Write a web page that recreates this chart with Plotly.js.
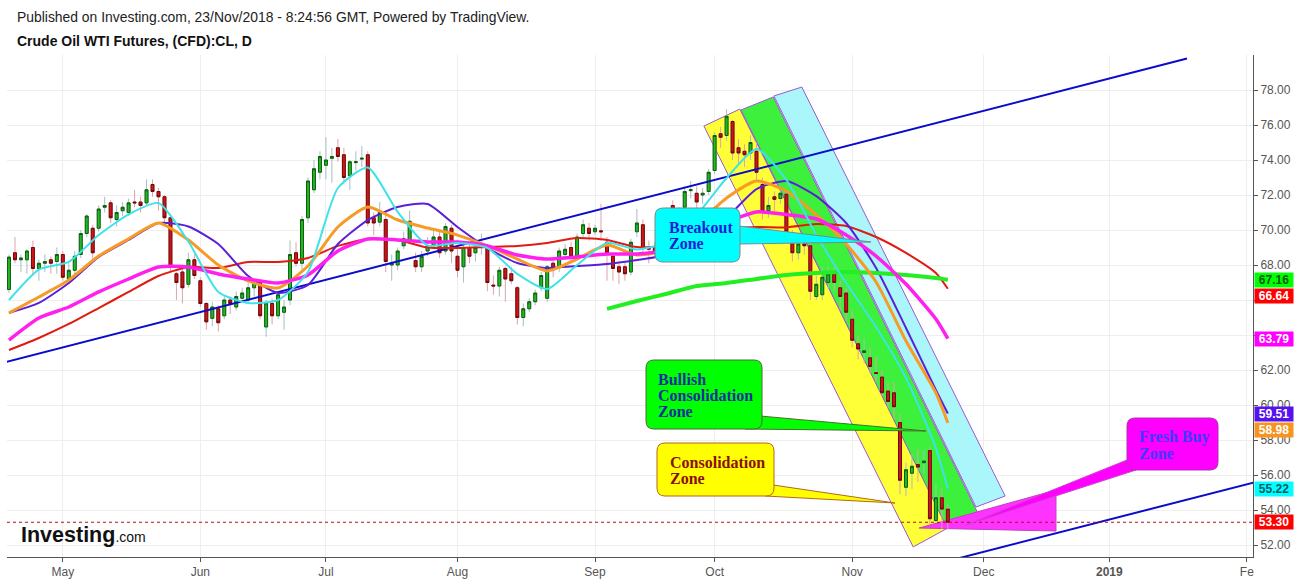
<!DOCTYPE html>
<html><head><meta charset="utf-8">
<script src="https://cdn.plot.ly/plotly-3.0.1.min.js"></script>
<style>html,body{margin:0;padding:0;background:#fff}#chart{width:1299px;height:581px}</style>
</head><body><div id="chart"></div>
<script>
// ---------------- DATA ----------------
const firstDay = '2018-04-18';
const openP = [
66.6,68.7,68.3,68.3,69.0,67.8,68.1,68.3,68.2,68.6,
67.2,67.7,68.6,69.8,70.1,70.1,71.3,71.55,70.6,71.1,
71.0,71.6,71.6,71.55,72.6,72.2,71.9,70.7,67.5,67.6,
66.9,68.3,67.1,65.8,64.95,65.5,65.1,66.0,65.6,66.1,
66.0,66.7,67.0,64.46,65.8,65.1,65.3,66.0,68.7,68.1,
70.7,72.3,73.3,73.7,74.1,74.7,74.3,73.1,73.85,74.05,
74.3,70.7,70.45,70.6,68.0,68.0,69.1,69.4,68.25,67.9,
68.8,69.1,69.6,68.8,70.1,68.5,67.9,69.0,68.7,69.0,
69.0,66.85,66.8,67.8,67.5,66.7,65.0,65.5,65.9,66.7,
66.1,68.1,67.9,68.6,69.0,68.5,69.8,70.1,69.9,69.95,
69.3,68.5,67.9,67.9,67.6,69.9,70.3,69.0,69.0,68.9,
69.9,71.4,70.7,71.3,72.25,72.1,72.0,72.2,73.4,75.5,
75.4,76.2,74.7,74.5,74.4,74.5,72.6,71.1,71.9,71.8,
72.05,69.8,68.7,69.2,69.1,66.2,66.3,67.0,67.5,66.7,
66.4,64.9,63.5,63.0,62.7,61.85,61.6,60.8,60.7,59.0,
55.3,56.1,56.6,56.7,57.4,53.4,54.7,54.05];
const highP = [
68.6,69.6,68.6,68.9,69.4,68.3,68.6,68.5,69.0,68.8,
68.1,68.8,70.0,70.9,70.3,71.4,71.9,71.7,71.4,71.6,
71.8,72.3,71.9,72.9,72.9,72.4,72.0,70.9,67.6,67.8,
68.7,68.6,67.3,65.9,65.9,65.7,66.3,66.2,66.5,66.7,
67.0,67.2,67.1,66.0,66.1,66.5,66.0,69.4,69.3,70.8,
73.0,74.0,74.5,75.3,74.7,75.2,74.7,74.0,74.5,74.8,
74.5,71.0,71.6,71.1,68.6,69.0,69.9,71.1,68.7,68.8,
69.6,70.0,70.0,70.4,70.3,68.9,69.2,69.3,69.4,69.8,
69.2,67.4,67.9,67.9,67.9,66.8,65.8,66.1,66.6,67.6,
68.0,68.3,69.0,69.2,69.3,69.8,70.6,70.4,70.3,71.5,
69.6,68.7,68.2,68.2,69.5,71.2,70.6,69.4,69.3,70.1,
71.3,71.7,71.3,72.5,72.8,72.5,72.4,73.5,75.6,75.9,
76.9,76.3,75.2,74.9,75.4,75.0,73.0,71.9,72.2,72.4,
72.3,70.0,69.6,69.6,69.4,67.4,67.9,67.9,67.9,67.1,
66.7,65.4,64.0,63.8,63.3,62.8,62.0,61.3,61.3,59.5,
56.7,57.2,57.5,57.4,57.6,55.5,55.2,54.4];
const lowP = [
66.4,68.1,67.6,67.5,67.4,67.1,67.6,67.5,67.5,67.1,
66.9,67.4,68.4,69.6,68.3,69.9,71.0,70.4,70.2,70.8,
70.8,71.3,71.0,71.4,71.9,71.1,70.3,67.6,66.0,65.8,
66.7,67.2,65.6,64.3,64.5,64.2,64.9,65.2,65.4,65.9,
65.8,66.2,64.9,63.9,64.6,64.9,64.3,65.7,67.9,67.7,
70.4,72.1,72.9,72.9,72.7,73.9,72.6,72.3,73.4,73.6,
70.2,69.7,70.2,67.6,67.1,67.7,68.9,69.2,67.6,67.6,
68.5,68.9,68.4,68.6,68.1,67.3,67.0,68.1,68.2,68.6,
66.5,66.3,66.2,65.9,66.9,64.6,64.5,65.3,65.7,66.5,
65.9,67.3,67.6,68.3,68.1,68.3,69.5,69.4,69.7,69.4,
67.1,67.1,66.9,67.1,67.4,69.6,68.6,68.1,68.5,68.6,
69.7,70.3,70.5,70.8,71.8,71.2,71.5,72.0,73.2,74.7,
75.1,74.0,73.7,73.6,74.0,72.8,70.6,70.7,71.1,71.5,
69.5,68.2,68.3,68.6,66.0,66.0,66.0,66.6,66.5,65.4,
64.8,63.3,62.6,62.4,61.8,61.3,60.5,59.8,59.2,54.9,
54.8,55.2,55.6,56.1,53.2,53.3,52.9,52.9];
const closeP = [
68.45,68.3,68.4,68.8,67.8,68.1,68.2,68.1,68.6,67.3,
67.7,68.5,69.8,70.8,68.7,71.2,71.4,70.7,71.0,71.3,
71.55,71.55,71.4,72.3,72.2,71.9,70.7,67.9,67.0,66.7,
68.3,67.4,65.8,64.75,65.6,64.7,66.0,65.8,66.2,66.4,
66.7,67.0,65.1,65.83,65.1,66.3,65.6,68.6,68.1,70.6,
72.8,73.5,74.2,74.0,74.2,74.2,73.0,73.9,73.9,74.1,
70.4,70.4,71.0,68.2,68.1,68.8,69.5,70.5,67.9,68.5,
69.1,69.6,68.7,70.2,68.8,67.7,69.0,68.5,69.0,69.15,
67.0,66.8,67.7,67.2,67.1,65.0,65.5,65.9,66.4,67.4,
67.9,67.8,68.8,68.9,68.5,69.6,70.3,69.8,70.1,69.9,
68.7,67.8,67.6,67.5,69.3,70.4,69.0,68.9,68.8,69.9,
71.1,71.1,71.0,72.2,72.3,71.6,72.1,73.3,75.4,75.3,
76.5,74.4,74.4,74.3,75.0,73.3,71.0,71.4,71.75,72.1,
69.9,68.7,69.2,69.1,66.5,66.9,67.3,67.5,67.0,66.2,
65.3,63.7,63.2,63.1,62.2,61.8,60.7,60.2,59.9,55.7,
56.3,56.5,56.45,56.8,53.5,54.7,54.05,53.3];

const maDates = ['2018-04-18','2018-04-25','2018-05-02','2018-05-09','2018-05-16','2018-05-23','2018-05-30','2018-06-06','2018-06-13','2018-06-20','2018-06-27','2018-07-04','2018-07-11','2018-07-18','2018-07-25','2018-08-01','2018-08-08','2018-08-15','2018-08-22','2018-08-29','2018-09-05','2018-09-12','2018-09-19','2018-09-26','2018-10-03','2018-10-10','2018-10-17','2018-10-24','2018-10-31','2018-11-07','2018-11-14','2018-11-21','2018-11-23'];
const maCyan    = [66.0,67.74,68.18,69.71,70.89,71.54,69.34,66.46,65.83,66.0,67.6,72.4,73.57,71.03,69.11,69.26,68.97,67.49,66.63,68.0,69.26,68.89,69.3,70.86,72.97,74.63,72.86,69.71,66.97,64.46,61.54,57.54,55.22];
const maOrange  = [65.26,66.17,67.14,68.51,69.49,70.4,69.43,68.0,67.09,66.69,67.94,70.17,71.31,70.57,70.11,69.71,69.09,68.34,67.66,68.34,69.14,68.57,68.86,70.29,71.83,72.8,72.23,70.86,69.2,67.03,63.66,60.69,58.98];
const maPurple  = [65.26,65.83,66.97,68.46,69.43,70.4,70.2,69.2,67.37,66.4,66.86,69.2,70.57,71.31,71.49,70.17,68.97,68.11,67.83,67.94,68.06,68.29,68.57,69.43,70.69,72.34,72.8,71.94,70.4,67.83,64.4,60.86,59.51];
const maMagenta = [63.71,64.97,65.6,66.46,67.2,67.89,67.89,67.49,67.2,66.97,67.43,68.8,69.49,69.43,69.31,69.31,69.09,68.57,68.34,68.46,68.63,68.63,68.86,69.77,70.46,71.03,70.88,70.63,69.71,68.51,66.91,64.91,63.79];
const maRed     = [63.14,63.83,64.63,65.54,66.46,67.37,67.89,67.83,68.17,68.17,68.4,69.09,69.49,69.43,69.0,68.97,69.03,69.09,69.26,69.54,69.43,69.03,69.09,69.54,70.06,70.17,70.15,70.34,70.23,69.6,68.69,67.54,66.64];
const maGreenDates = maDates.slice(20);
const maGreen   = [65.49,65.94,66.36,66.8,66.97,67.2,67.43,67.54,67.6,67.54,67.43,67.26,67.16];

// drawings
const yellowBandX = ['2018-09-27 05:00','2018-10-05 05:00','2018-11-23 00:00','2018-11-15 05:00'];
const yellowBandY = [75.94,76.91,52.97,51.89];
const greenBandX  = ['2018-10-05 10:00','2018-10-12 19:00','2018-11-29 22:00','2018-11-22 17:00'];
const greenBandY  = [76.86,77.6,53.89,53.09];
const cyanBandX   = ['2018-10-12 22:00','2018-10-19 14:00','2018-12-06 14:00','2018-11-29 17:00'];
const cyanBandY   = [77.66,78.17,54.8,54.17];
const buyZoneX    = ['2018-11-16 05:00','2018-12-19 02:00','2018-12-19 02:00'];
const buyZoneY    = [52.97,55.14,52.8];
const trendUpX  = ['2018-04-17','2019-01-18'];
const trendUpY  = [62.41,79.80];
const trendLowX = ['2018-11-20','2019-02-08'];
const trendLowY = [50.82,55.91];
const lastPrice = 53.30;

const tickDates  = ['2018-05-01','2018-06-01','2018-07-02','2018-08-01','2018-09-03','2018-10-01','2018-11-01','2018-12-03','2019-01-01','2019-02-01'];
const tickLabels = ['May','Jun','Jul','Aug','Sep','Oct','Nov','Dec','<b>2019</b>','Fe'];
const priceTicks = [52,54,56,58,60,62,64,66,68,70,72,74,76,78];
const priceTickText = ['52.00','54.00','56.00','58.00','60.00','62.00','','','68.00','70.00','72.00','74.00','76.00','78.00'];
const labelValues = [67.16,66.64,63.79,59.51,58.98,55.22,53.30];

// ---------------- BUILD ----------------
function weekdays(start, n){
  const out=[]; const d=new Date(start+'T00:00:00Z');
  while(out.length<n){const w=d.getUTCDay(); if(w!==0&&w!==6) out.push(d.toISOString().slice(0,10)); d.setUTCDate(d.getUTCDate()+1);}
  return out;
}
const dates = weekdays(firstDay, openP.length);
const bodyHi = openP.map((o,i)=>Math.max(o,closeP[i]));
const bodyLo = openP.map((o,i)=>Math.min(o,closeP[i]));

const L=7, R=1253, T=55, B=557, W=R-L, H=B-T;
const PX = x => (x-L)/W, PY = y => (B-y)/H;
const P = (x,y) => `${PX(x)},${PY(y)}`;
function rrect(x0,y0,x1,y1,r){
  return `M${P(x0+r,y0)} L${P(x1-r,y0)} Q${P(x1,y0)} ${P(x1,y0+r)} L${P(x1,y1-r)} Q${P(x1,y1)} ${P(x1-r,y1)} L${P(x0+r,y1)} Q${P(x0,y1)} ${P(x0,y1-r)} L${P(x0,y0+r)} Q${P(x0,y0)} ${P(x0+r,y0)} Z`;
}
const tri = (a,b,c) => `M${P(a[0],a[1])} L${P(b[0],b[1])} L${P(c[0],c[1])} Z`;
const dataPath = (xs,ys) => 'M' + xs.map((x,i)=>x.replace(' ','_')+','+ys[i]).join(' L') + ' Z';
const bandShape = (xs,ys,fill,lc) => ({type:'path',xref:'x',yref:'y',path:dataPath(xs,ys),fillcolor:fill,line:{color:lc,width:1},layer:'between'});

const maLine = (xs,ys,color,w) => ({type:'scatter',mode:'lines',x:xs,y:ys,line:{color:color,width:w,shape:'spline',smoothing:0.6},hoverinfo:'skip',showlegend:false});

const traces = [
  {type:'candlestick',x:dates,open:openP,high:highP,low:lowP,close:closeP,
   increasing:{line:{color:'#a9bcc4',width:1},fillcolor:'#22b822'},
   decreasing:{line:{color:'#dda3ab',width:1},fillcolor:'#d41414'},hoverinfo:'skip',showlegend:false},
  {type:'candlestick',x:dates,open:openP,high:bodyHi,low:bodyLo,close:closeP,
   increasing:{line:{color:'#0d5e0d',width:1},fillcolor:'#22b822'},
   decreasing:{line:{color:'#6a0a0a',width:1},fillcolor:'#d41414'},hoverinfo:'skip',showlegend:false},
  {type:'scatter',mode:'lines',x:trendUpX,y:trendUpY,line:{color:'#0b0bcc',width:2},hoverinfo:'skip',showlegend:false},
  {type:'scatter',mode:'lines',x:trendLowX,y:trendLowY,line:{color:'#0b0bcc',width:2},hoverinfo:'skip',showlegend:false},
  maLine(maDates,maRed,'#e01b12',2),
  maLine(maDates,maPurple,'#5b1fd6',2),
  maLine(maGreenDates,maGreen,'#22ee22',4),
  maLine(maDates,maOrange,'#f79a26',3),
  maLine(maDates,maMagenta,'#ff20f0',3.5),
  maLine(maDates,maCyan,'#3ee2ea',2)
];

const shapes = [
  bandShape(yellowBandX,yellowBandY,'#ffff38','#9b59d0'),
  bandShape(greenBandX,greenBandY,'#3cf03c','#9b59d0'),
  bandShape(cyanBandX,cyanBandY,'#abf6fb','#9b59d0'),
  bandShape(buyZoneX,buyZoneY,'#ff33ff','#c040c0'),
  {type:'line',xref:'paper',x0:0,x1:1,yref:'y',y0:lastPrice,y1:lastPrice,line:{color:'#b01010',width:1,dash:'dot'},layer:'above'},
  // Breakout
  {type:'path',xref:'paper',yref:'paper',path:tri([739,226],[871,242],[739,244]),fillcolor:'#00ffff',line:{color:'#7a8a8a',width:1}},
  {type:'path',xref:'paper',yref:'paper',path:rrect(655,208,740,262,8),fillcolor:'#00ffff',line:{color:'#7a8a8a',width:1}},
  // Bullish consolidation
  {type:'path',xref:'paper',yref:'paper',path:tri([760,416],[926,431],[745,429]),fillcolor:'#00ff00',line:{color:'#4d6b2e',width:1}},
  {type:'path',xref:'paper',yref:'paper',path:rrect(646,360,762,429,8),fillcolor:'#00ff00',line:{color:'#4d6b2e',width:1}},
  // Consolidation
  {type:'path',xref:'paper',yref:'paper',path:tri([773,485],[895,503],[765,496]),fillcolor:'#ffff00',line:{color:'#b5651d',width:1}},
  {type:'path',xref:'paper',yref:'paper',path:rrect(657,443,774,496,8),fillcolor:'#ffff00',line:{color:'#b5651d',width:1}},
  // Fresh buy
  {type:'path',xref:'paper',yref:'paper',path:tri([1127,460],[966,525],[1136,470]),fillcolor:'#ff00ff',line:{color:'#d040d0',width:1}},
  {type:'path',xref:'paper',yref:'paper',path:rrect(1127,418,1218,470,8),fillcolor:'#ff00ff',line:{color:'#b030b0',width:1}}
];

const serif = {family:'Liberation Serif, Times New Roman, serif',size:16};
const txt = (s,x,y,color) => ({text:'<b>'+s+'</b>',xref:'paper',yref:'paper',x:PX(x),y:PY(y),xanchor:'left',yanchor:'middle',showarrow:false,font:Object.assign({},serif,{color:color})});

const labelStyles = [
  {bg:'#00ff00',fc:'#0a5a0a',dy:0},
  {bg:'#ff0000',fc:'#ffffff',dy:-7},
  {bg:'#ff00ff',fc:'#ffffff',dy:0},
  {bg:'#5511ee',fc:'#ffffff',dy:0},
  {bg:'#f7931e',fc:'#ffffff',dy:-7},
  {bg:'#00ffff',fc:'#0a5a6a',dy:0},
  {bg:'#ff0000',fc:'#ffffff',dy:0}
];

const annotations = [
  {text:'Published on Investing.com, 23/Nov/2018 - 8:24:56 GMT, Powered by TradingView.',xref:'paper',yref:'paper',x:PX(15),y:PY(17),xanchor:'left',yanchor:'middle',showarrow:false,font:{size:13.9,color:'#222'}},
  {text:'<b>Crude Oil WTI Futures, (CFD):CL, D</b>',xref:'paper',yref:'paper',x:PX(15),y:PY(41),xanchor:'left',yanchor:'middle',showarrow:false,font:{size:14,color:'#111'}},
  {text:'<b>Investing</b><span style="font-size:14px;font-weight:normal">.com</span>',xref:'paper',yref:'paper',x:PX(19),y:PY(535),xanchor:'left',yanchor:'middle',showarrow:false,font:{size:21.5,color:'#111'}},
  txt('Breakout',667,227,'#1c1cd8'), txt('Zone',667,243,'#1c1cd8'),
  txt('Bullish',656,379,'#1a2ea0'), txt('Consolidation',656,395,'#1a2ea0'), txt('Zone',656,411,'#1a2ea0'),
  txt('Consolidation',668,462,'#8b1010'), txt('Zone',668,478,'#8b1010'),
  txt('Fresh Buy',1137,437,'#3b3bff'), txt('Zone',1137,453,'#3b3bff')
];
labelValues.forEach((v,i)=>{
  const s=labelStyles[i];
  annotations.push({text:'<b>'+v.toFixed(2)+'</b>',xref:'paper',yref:'y',x:1,y:v,xanchor:'left',yanchor:'middle',xshift:1,yshift:s.dy,
    showarrow:false,bgcolor:s.bg,width:38,height:14,borderpad:0,font:{size:12,color:s.fc}});
});

const layout = {
  width:1299,height:581,
  margin:{l:L,r:1299-R,t:T,b:581-B,pad:0},
  paper_bgcolor:'#ffffff',plot_bgcolor:'#ffffff',
  font:{family:'Liberation Sans, Arial, sans-serif',color:'#555'},
  showlegend:false,hovermode:false,dragmode:false,
  xaxis:{type:'date',range:['2018-04-17 16:00','2019-02-04 00:45'],
    rangebreaks:[{bounds:['sat','mon']}],
    rangeslider:{visible:false},
    tickmode:'array',tickvals:tickDates,ticktext:tickLabels,
    showgrid:true,gridcolor:'#eeeeee',gridwidth:1,zeroline:false,
    showline:true,linecolor:'#555',linewidth:1,ticks:'outside',ticklen:4,tickcolor:'#555',
    tickfont:{size:12,color:'#555'},fixedrange:true},
  yaxis:{side:'right',range:[51.314,80.0],tickmode:'array',tickvals:priceTicks,ticktext:priceTickText,
    showgrid:true,gridcolor:'#eeeeee',gridwidth:1,zeroline:false,
    showline:true,linecolor:'#555',linewidth:1,ticks:'outside',ticklen:4,tickcolor:'#555',
    tickfont:{size:12,color:'#555'},fixedrange:true},
  shapes:shapes,annotations:annotations
};

Plotly.newPlot('chart',traces,layout,{displayModeBar:false,staticPlot:true});
</script></body></html>
